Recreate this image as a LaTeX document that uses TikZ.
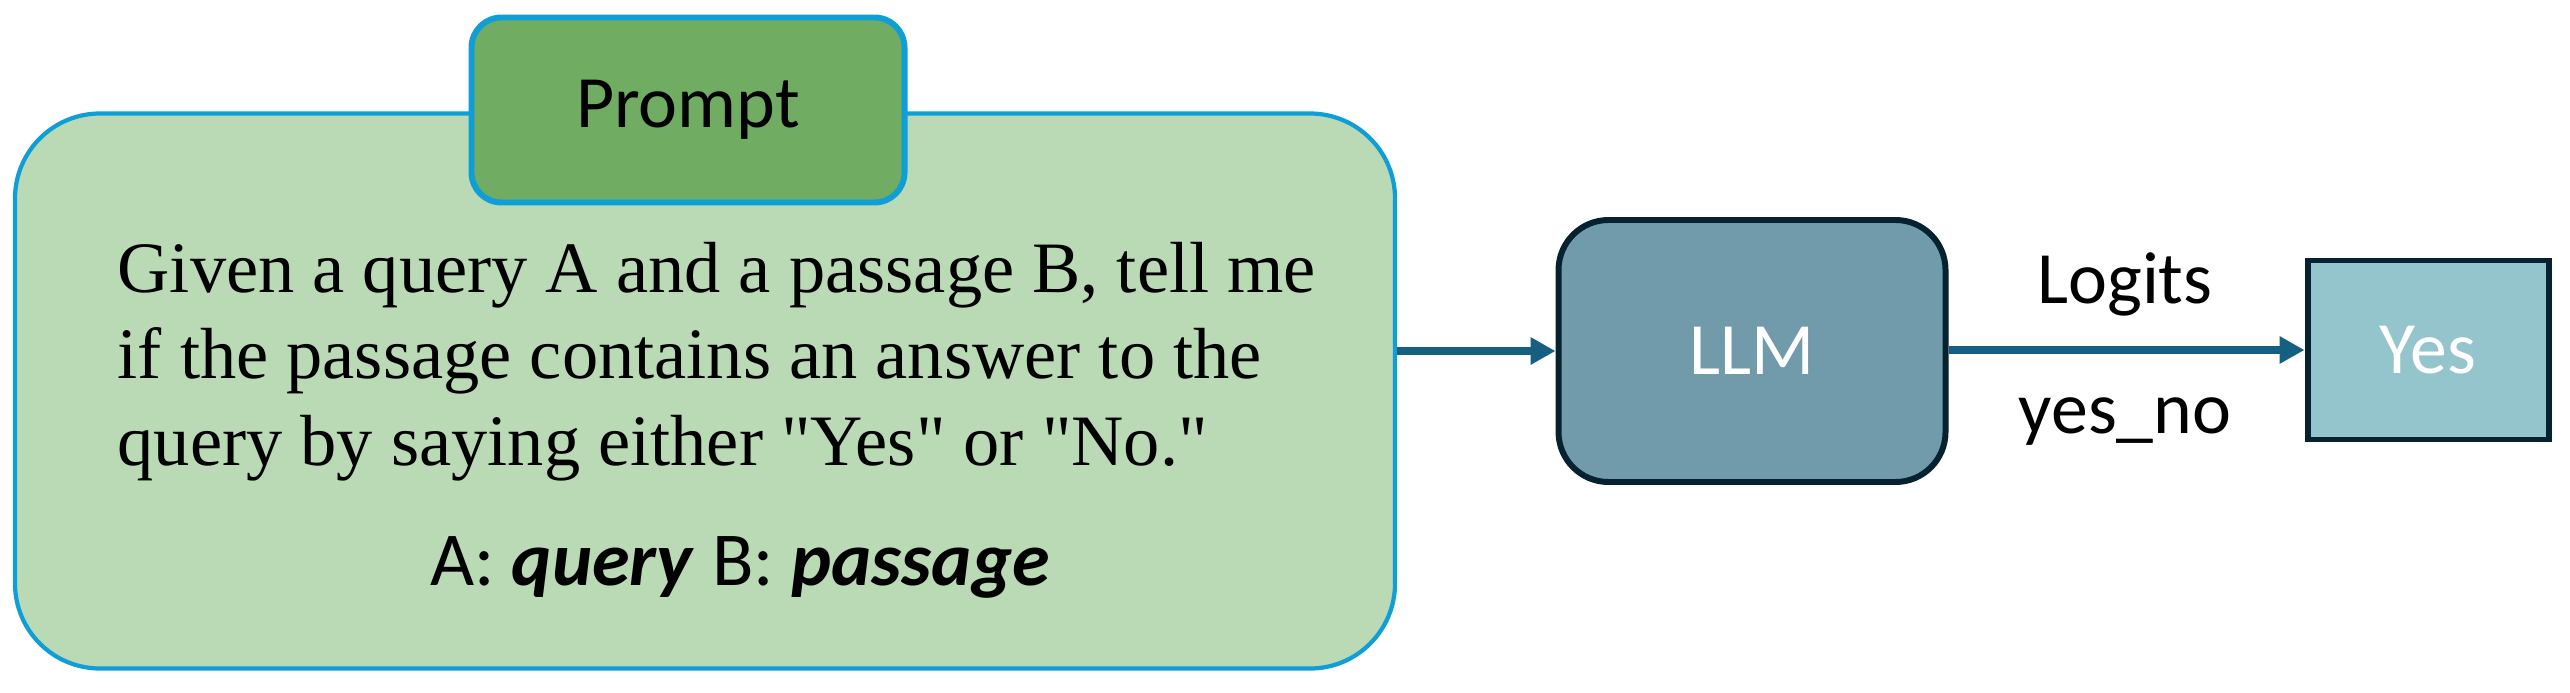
\documentclass[tikz,border=0pt]{standalone}
\usepackage{fontspec}
\setmainfont{Carlito}
\newfontfamily\promptfont{Liberation Serif}
\usepackage{xcolor}
\definecolor{Col1}{RGB}{15,158,213}
\definecolor{Col2}{RGB}{186,217,181}
\definecolor{Col3}{RGB}{112,173,99}
\definecolor{Col4}{RGB}{113,154,171}
\definecolor{Col5}{RGB}{148,196,204}
\definecolor{Col6}{RGB}{6,33,48}
\definecolor{Col7}{RGB}{21,96,130}
\usepackage{tikz}
\usetikzlibrary{arrows.meta}
\tikzstyle{PromptBox}=[draw=Col1,fill=Col2,line width=1.2pt,
rounded corners=0.85cm]
\tikzstyle{PromptTab}=[draw=Col1,fill=Col3,line width=1.7pt,
rounded corners=0.3cm,minimum width=4.33cm,minimum height=1.85cm,
font=\fontsize{21}{25}\selectfont]
\tikzstyle{Block}=[draw=Col6,line width=1.7pt,text=white,
font=\fontsize{21}{25}\selectfont]
\tikzstyle{Edge}=[draw=Col7,line width=2pt,
-{Triangle[length=0.25cm,width=0.26cm]}]
\tikzstyle{NodeST}=[inner sep=0pt,font=\fontsize{21}{25}\selectfont]

\begin{document}
\begin{tikzpicture}
            \useasboundingbox(0,0)rectangle(25.70,6.92);
            \node[PromptBox,minimum width=13.8cm,minimum height=5.55cm]
                (box)at(7.05,3.01){};
            \node[PromptTab](tab)at(6.88,5.82){Prompt};
            \node[NodeST,anchor=base west,align=left,
                font=\promptfont\fontsize{20.6}{24.6}\selectfont]
                (query)at(1.17,2.27){Given a query A and a passage B, tell me\\
                if the passage contains an answer to the\\
                query by saying either "Yes" or "No."};
            \node[NodeST,anchor=base,font=\fontsize{21.7}{25}\selectfont]
                (ab)at(7.40,1.07)
                {A: \textbf{\textit{query}} B: \textbf{\textit{passage}}};
            \node[Block,fill=Col4,rounded corners=0.5cm,
                minimum width=3.87cm,minimum height=2.62cm]
                (llm)at(17.52,3.41){LLM};
            \node[Block,fill=Col5,minimum width=2.41cm,minimum height=1.79cm]
                (yes)at(24.28,3.42){Yes};
            \node[NodeST,anchor=base](logits)at(21.25,3.89){Logits};
            \node[NodeST,anchor=base](yesno)at(21.25,2.59){yes\_no};
            \draw[Edge](box.east|-llm.west)--(llm.west);
            \draw[Edge](llm.east|-yes.west)--(yes.west);
        \end{tikzpicture}
\end{document}
